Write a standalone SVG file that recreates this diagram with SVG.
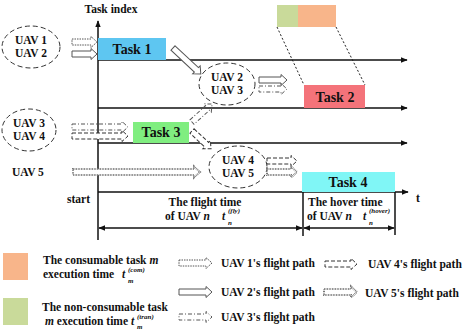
<svg xmlns="http://www.w3.org/2000/svg" width="474" height="330" viewBox="0 0 474 330">
<style>
text{font-family:"Liberation Serif","Times New Roman",serif;font-weight:bold;fill:#111}
.t11{font-size:11.5px}
.task{font-size:14px;text-anchor:middle}
.sup{font-size:7px;font-style:italic}
.it{font-style:italic}
.ax{stroke:#111;stroke-width:1.5;fill:none}
.oval{fill:#fff;stroke:#333;stroke-width:1;stroke-dasharray:5 3}
.u1{fill:#fff;stroke:#555;stroke-width:1;stroke-dasharray:1.5 1}
.u2{fill:#fff;stroke:#555;stroke-width:1}
.u3{fill:none;stroke:#555;stroke-width:1;stroke-dasharray:4 2 1 2}
.u4{fill:#fff;stroke:#333;stroke-width:1;stroke-dasharray:4 2}
.u5{fill:#fff;stroke:#777;stroke-width:2;stroke-dasharray:0.8 0.8}
.dot{stroke:#222;stroke-width:1;stroke-dasharray:2 2;fill:none}
</style>
<defs>
<marker id="ah" viewBox="0 0 10 10" refX="9" refY="5" markerWidth="7" markerHeight="7" orient="auto-start-reverse" markerUnits="userSpaceOnUse">
<path d="M0,1 L10,5 L0,9 Z" fill="#111"/>
</marker>
</defs>

<g id="axes">
<line class="ax" x1="98" y1="240" x2="98" y2="21" marker-end="url(#ah)"/>
<line class="ax" x1="98" y1="60" x2="407" y2="60" marker-end="url(#ah)"/>
<line class="ax" x1="98" y1="108" x2="407" y2="108" marker-end="url(#ah)"/>
<line class="ax" x1="98" y1="143" x2="407" y2="143" marker-end="url(#ah)"/>
<line class="ax" x1="98" y1="192" x2="408" y2="192" marker-end="url(#ah)"/>
<line class="ax" x1="303" y1="192" x2="303" y2="236"/>
<line class="ax" x1="395" y1="192" x2="395" y2="235"/>
<text class="t11" x="111" y="13" text-anchor="middle">Task index</text>
<text class="t11" x="416" y="202">t</text>
<text class="t11" x="67" y="203">start</text>
</g>

<g id="task1"><rect x="98" y="38" width="68" height="22" fill="#5ec6f1"/><text class="task" x="132" y="54">Task 1</text></g>
<g id="task2"><rect x="304" y="85" width="61" height="23" fill="#f4737a"/><text class="task" x="335" y="102">Task 2</text></g>
<g id="task3"><rect x="133" y="122" width="56" height="21" fill="#80ee80"/><text class="task" x="161" y="137">Task 3</text></g>
<g id="task4"><rect x="302" y="172" width="93" height="20" fill="#80f6f6"/><text class="task" x="348" y="187">Task 4</text></g>

<g id="exec-bar">
<rect x="277" y="5" width="21" height="22" fill="#c9da9a"/>
<rect x="298" y="5" width="38" height="22" fill="#f8b58a"/>
<line class="dot" x1="277" y1="27" x2="304" y2="85"/>
<line class="dot" x1="336" y1="27" x2="365" y2="85"/>
</g>

<g id="oval-uav12"><ellipse class="oval" cx="31" cy="47" rx="29" ry="21"/><text class="t11" x="31" y="44" text-anchor="middle">UAV 1</text><text class="t11" x="31" y="57" text-anchor="middle">UAV 2</text></g>
<g id="oval-uav23"><ellipse class="oval" cx="227" cy="84" rx="28" ry="21"/><text class="t11" x="227" y="81" text-anchor="middle">UAV 2</text><text class="t11" x="227" y="94" text-anchor="middle">UAV 3</text></g>
<g id="oval-uav34"><ellipse class="oval" cx="29" cy="130" rx="27" ry="21"/><text class="t11" x="29" y="127" text-anchor="middle">UAV 3</text><text class="t11" x="29" y="140" text-anchor="middle">UAV 4</text></g>
<g id="uav5"><text class="t11" x="12" y="176">UAV 5</text></g>
<g id="oval-uav45"><ellipse class="oval" cx="238" cy="167" rx="29" ry="21"/><text class="t11" x="238" y="164" text-anchor="middle">UAV 4</text><text class="t11" x="238" y="177" text-anchor="middle">UAV 5</text></g>

<g id="connectors">
<path class="u1" transform="translate(72,42)" d="M0,-3 H19 V-5.5 L25,0 L19,5.5 V3 H0 Z"/>
<path class="u2" transform="translate(72,54)" d="M0,-3 H19 V-5.5 L25,0 L19,5.5 V3 H0 Z"/>
<path class="u2" transform="translate(173,48) rotate(43)" d="M0,-3 H32 V-5.5 L38,0 L32,5.5 V3 H0 Z"/>
<path class="u2" transform="translate(259,80)" d="M0,-3 H22 V-5.5 L28,0 L22,5.5 V3 H0 Z"/>
<path class="u3" transform="translate(259,89)" d="M0,-3 H22 V-5.5 L28,0 L22,5.5 V3 H0 Z"/>
<path class="u3" transform="translate(72,127)" d="M0,-3 H50 V-5.5 L56,0 L50,5.5 V3 H0 Z"/>
<path class="u4" transform="translate(72,136)" d="M0,-3 H50 V-5.5 L56,0 L50,5.5 V3 H0 Z"/>
<path class="u5" transform="translate(73,172)" d="M0,-3 H121 V-5.5 L127,0 L121,5.5 V3 H0 Z"/>
<path class="u3" transform="translate(192,122) rotate(-42)" d="M0,-3 H21 V-5.5 L27,0 L21,5.5 V3 H0 Z"/>
<path class="u4" transform="translate(192,131) rotate(43)" d="M0,-3 H20 V-5.5 L26,0 L20,5.5 V3 H0 Z"/>
<path class="u4" transform="translate(267,161)" d="M0,-3 H24 V-5.5 L30,0 L24,5.5 V3 H0 Z"/>
<path class="u5" transform="translate(267,172)" d="M0,-3 H24 V-5.5 L30,0 L24,5.5 V3 H0 Z"/>
</g>

<g id="time-spans">
<line class="ax" x1="99" y1="228" x2="302" y2="228" marker-start="url(#ah)" marker-end="url(#ah)"/>
<line class="ax" x1="304" y1="228" x2="394" y2="228" marker-start="url(#ah)" marker-end="url(#ah)"/>
<text class="t11" x="205" y="206" text-anchor="middle">The flight time</text>
<text class="t11" x="165" y="220">of UAV <tspan class="it">n</tspan></text>
<text class="t11 it" x="222" y="220">t</text>
<text class="sup" x="228" y="213">(fly)</text>
<text class="sup" x="228" y="225">n</text>
<text class="t11" x="308" y="206">The hover time</text>
<text class="t11" x="307" y="220">of UAV <tspan class="it">n</tspan></text>
<text class="t11 it" x="363" y="220">t</text>
<text class="sup" x="369" y="213">(hover)</text>
<text class="sup" x="369" y="225">n</text>
</g>

<g id="legend">
<rect x="3" y="253" width="25" height="27" fill="#f8b58a"/>
<rect x="3" y="298" width="25" height="27" fill="#c9da9a"/>
<text class="t11" x="43" y="264">The consumable task <tspan class="it">m</tspan></text>
<text class="t11" x="43" y="278">execution time</text>
<text class="t11 it" x="122" y="278">t</text>
<text class="sup" x="128" y="272">(com)</text>
<text class="sup" x="128" y="283">m</text>
<text class="t11" x="42" y="311">The non-consumable task</text>
<text class="t11" x="45" y="325"><tspan class="it">m</tspan> execution time</text>
<text class="t11 it" x="131" y="325">t</text>
<text class="sup" x="137" y="319">(tran)</text>
<text class="sup" x="137" y="329">m</text>

<path class="u1" transform="translate(179,263)" d="M0,-3 H27 V-5.5 L33,0 L27,5.5 V3 H0 Z"/>
<path class="u2" transform="translate(179,292)" d="M0,-3 H27 V-5.5 L33,0 L27,5.5 V3 H0 Z"/>
<path class="u3" transform="translate(179,317)" d="M0,-3 H27 V-5.5 L33,0 L27,5.5 V3 H0 Z"/>
<path class="u4" transform="translate(325,264)" d="M0,-3 H26 V-5.5 L32,0 L26,5.5 V3 H0 Z"/>
<path class="u5" transform="translate(324,292)" d="M0,-3 H27 V-5.5 L33,0 L27,5.5 V3 H0 Z"/>
<text class="t11" x="221" y="267">UAV 1's flight path</text>
<text class="t11" x="221" y="296">UAV 2's flight path</text>
<text class="t11" x="221" y="321">UAV 3's flight path</text>
<text class="t11" x="368" y="268">UAV 4's flight path</text>
<text class="t11" x="365" y="297">UAV 5's flight path</text>
</g>
</svg>
